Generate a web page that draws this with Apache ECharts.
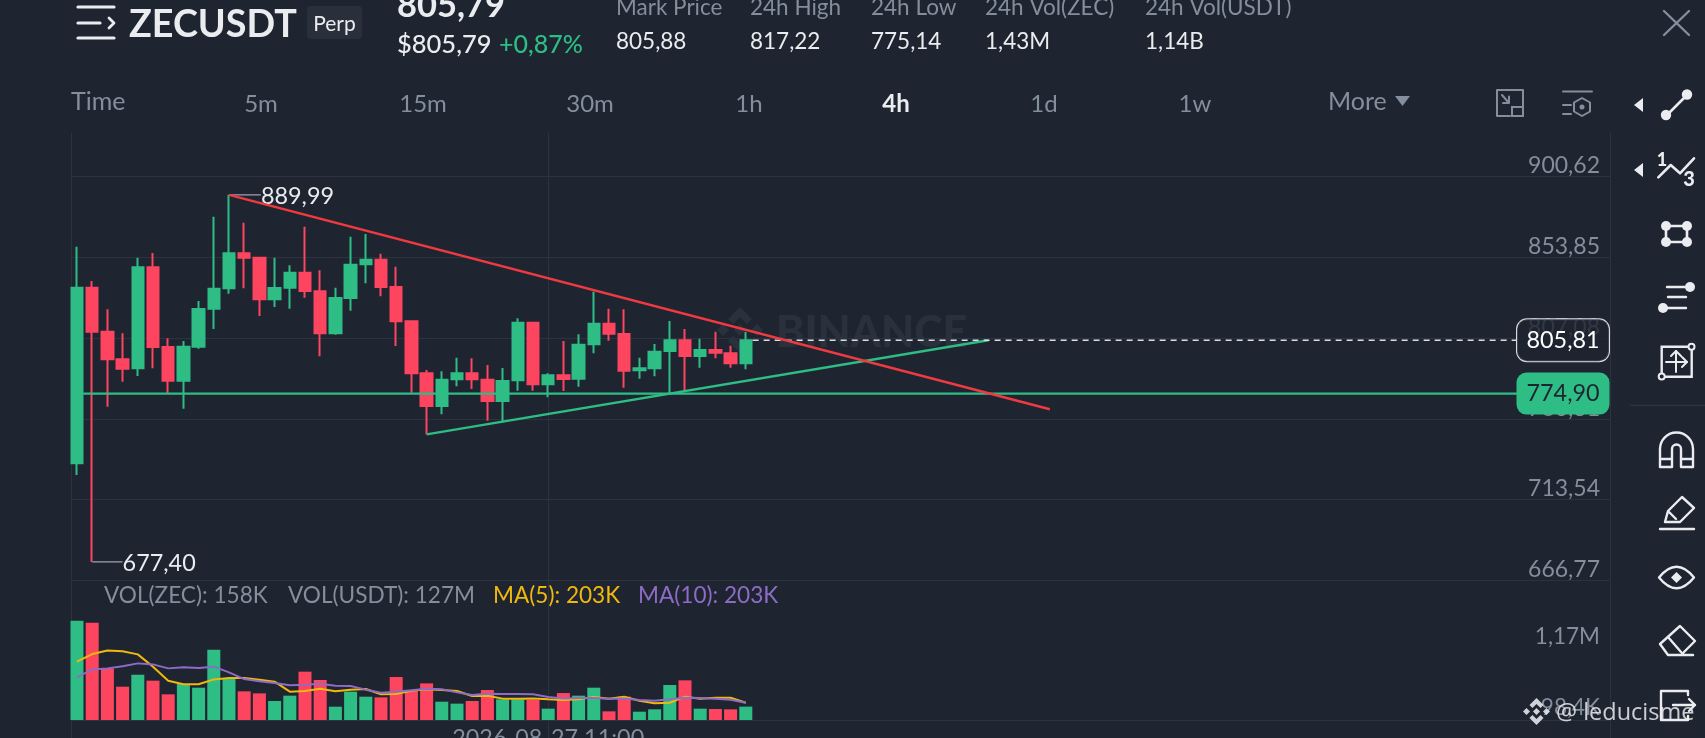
<!DOCTYPE html>
<html><head><meta charset="utf-8">
<style>html,body{margin:0;padding:0;background:#1E2530;overflow:hidden}#c{width:1705px;height:738px}</style>
<script src="https://cdn.jsdelivr.net/npm/echarts@6/dist/echarts.min.js"></script>
</head><body><div id="c"></div>
<script>
const opens =[734.5,836.23,810.74,794.72,789.5,848,801.86,782.36,802.05,824.06,835.84,856.11,853.6,829.47,836.23,844.91,834.1,809.78,830.24,849.74,852.44,836.61,816.73,786.61,767.69,783.13,786.61,782.94,770.58,782.55,815.96,780.24,785.45,783.52,803.41,815.38,809.39,788.35,789.5,799.54,805.72,796.65,800.12,798.19,792.4];
const closes=[836.23,810.74,794.72,789.31,848,801.86,782.36,802.05,823.87,835.65,856.11,853.6,829.47,836.03,844.91,834.3,809.78,830.24,849.55,852.44,836.61,816.73,786.61,767.69,782.94,786.61,783.13,770.58,782.17,815.96,780.24,785.45,783.33,803.21,815.38,809.58,788.15,789.5,799.16,805.72,796.65,800.12,798.58,792.4,805.81];
const highs =[859.97,840.09,823.68,809.78,853.6,856.31,806.88,805.33,828.5,877.35,889.99,873.88,853.6,853.6,849.16,871.56,846.27,836.23,865.77,867.31,855.92,848.39,817.31,788.54,787.77,795.68,795.3,791.44,789.7,818.46,816.53,786.61,805.34,809.2,833.91,824.06,823.68,795.68,803.6,816.92,812.29,806.69,810.74,802.63,810.55];
const lows  =[727.72,677.4,767.3,781.78,785.06,789.5,775.02,766.14,800.89,812.29,832.75,835.84,819.82,825.03,824.06,830.43,796.45,809,822.9,838.74,831.21,802.44,775.41,751.28,762.86,779.08,777.53,759.19,758.23,776.57,776.57,772.71,776.38,778.89,798.19,805.53,778.31,783.52,784.87,775.02,776.57,789.89,795.3,789.89,788.93];
const volumes=[1171,1148,609,393,534,464,303,424,381,829,491,338,314,224,287,570,472,157,334,275,267,507,354,432,216,193,224,354,244,244,236,134,318,287,381,102,275,98,126,413,468,134,130,126,158];
const ma5 =[688,778,821,810,774,629,464,421,421,479,495,495,476,452,334,342,369,338,358,365,303,307,346,362,354,342,283,287,252,252,255,244,236,244,271,252,275,228,197,204,275,252,263,263,203];
const ma10=[503,597,609,633,668,656,609,621,613,629,562,483,456,436,409,417,428,405,401,358,322,334,350,369,362,326,295,310,307,307,303,271,255,259,259,252,255,236,228,244,263,259,252,240,203];
const priceTicks=[666.77,713.54,760.31,807.08,853.85,900.62];
const volTickLabels=[98.4,1170];
const redTrend=[[10,889.99],[64,765.78]];
const greenTrend=[[23,751.28],[59.95,805.81]];
const lastPrice=805.81, supportPrice=774.90, highMark=889.99, lowMark=677.40;
const timeLabel='2026-08-27 11:00', timeIndex=31;
const timeframes=[['5m',261],['15m',423],['30m',590],['1h',749],['4h',896],['1d',1044],['1w',1195]];
const stats=[['Mark Price','805,88',616],['24h High','817,22',750],['24h Low','775,14',871],['24h Vol(ZEC)','1,43M',985],['24h Vol(USDT)','1,14B',1145]];

const FONT='Lato';
const BG='#1E2530',GRID='#2C333F',UP='#2EBD85',DOWN='#FD4560',MUTED='#848E9C',WHITE='#EAECEF',TL_RED='#F03A41';
const comma=v=>v.toFixed(2).replace('.',',');
const xMin=-0.355,xMax=100.855;
const idx=volumes.map((_,i)=>i);

/* graphic helpers */
const T=(x,y,text,size,fill,weight,align,z)=>({type:'text',z:z||1,style:{x,y,text,fill,font:(weight||400)+' '+size+'px '+FONT,textAlign:align||'left',textVerticalAlign:'middle'}});
const L=(x1,y1,x2,y2,stroke,w,z)=>({type:'line',z:z||1,shape:{x1,y1,x2,y2},style:{stroke,lineWidth:w||2,lineCap:'round'}});
const C=(cx,cy,r,fill,stroke,w)=>({type:'circle',z:1,shape:{cx,cy,r},style:{fill:fill||'none',stroke:stroke||null,lineWidth:w||0}});
const R=(x,y,width,height,opt)=>({type:'rect',z:1,shape:{x,y,width,height,r:opt.r||0},style:{fill:opt.fill||'none',stroke:opt.stroke||null,lineWidth:opt.w||0}});
let pathCount=0;
const P=(d,fill,stroke,w,z,op)=>{const name='iconPath'+(pathCount++);
 echarts.graphic.registerShape(name,echarts.graphic.extendPath(d,{}));
 return {type:name,z:z||1,shape:{},style:{fill:fill||'none',stroke:stroke||null,lineWidth:w||0,lineJoin:'round',lineCap:'round',opacity:op==null?1:op}};};
const logo=(x,y,r,color,z,op)=>{const s=r*0.26;const d=(a,b,q)=>`M${a-q},${b}L${a},${b-q}L${a+q},${b}L${a},${b+q}Z`;
 const chev=`M${x},${y-r}L${x+r*0.52},${y-r*0.48}L${x+r*0.3},${y-r*0.26}L${x},${y-r*0.56}L${x-r*0.3},${y-r*0.26}L${x-r*0.52},${y-r*0.48}Z`+
 `M${x},${y+r}L${x+r*0.52},${y+r*0.48}L${x+r*0.3},${y+r*0.26}L${x},${y+r*0.56}L${x-r*0.3},${y+r*0.26}L${x-r*0.52},${y+r*0.48}Z`;
 return P(d(x,y,s)+d(x-r*0.74,y,s)+d(x+r*0.74,y,s)+chev,color,null,0,z,op);};

const I='#EAECEF';
const g=[
 /* faint brand mark behind the chart */
 logo(740,330,23,'#2A313D',0.5),
 T(776,333,'BINANCE',43,'#2A313D',900,'left',0.5),
 /* title */
 L(78,7,114,7,WHITE,3.2),L(78,23,100,23,WHITE,3.2),L(78,38,114,38,WHITE,3.2),
 P('M109,18L114,23L109,28',null,WHITE,2.8),
 T(129,25,'ZECUSDT',37.7,WHITE,700),
 R(307,6,55,33,{fill:'#2A303B',r:4}),
 T(334.5,24,'Perp',21,WHITE,400,'center'),
 T(397,6,'805,79',34.5,WHITE,700),
 T(397,45,'$805,79',25.5,WHITE,500),
 T(499,45,'+0,87%',25,UP,500),
 /* time bar */
 T(71,101.5,'Time',25,MUTED),
 T(1328,102,'More',25,MUTED),
 P('M1395,96L1410,96L1402.5,106Z',MUTED),
 /* top icons */
 P('M1510,116L1497,116L1497,90L1523,90L1523,106',null,MUTED,2),
 R(1512,107,11,9,{stroke:MUTED,w:2}),
 P('M1502,95L1509,103M1509,96.5L1509,103L1503,103',null,MUTED,2),
 L(1563,91.5,1592,91.5,MUTED,2),L(1563,105,1571,105,MUTED,2),L(1563,114,1571,114,MUTED,2),
 P('M1582,98L1590,102.5L1590,111.5L1582,116L1574,111.5L1574,102.5Z',null,MUTED,2),
 C(1582,107,2.5,MUTED),
 L(1664,11,1689,35,MUTED,2.4),L(1689,11,1664,35,MUTED,2.4),
 /* drawing tools */
 P('M1643,98L1634,105L1643,112Z',I),P('M1643,163L1634,170L1643,177Z',I),
 C(1687,94.5,5.2,I),C(1666,115,5.2,I),L(1667,115,1687,95,I,2.6),
 P('M1658.3,177.3L1670.7,165L1680,173.3L1694,158.3',null,I,2.6),
 T(1662,160,'1',18,I,900,'center'),T(1689,180,'3',20,I,900,'center'),
 L(1666,226,1687,226,I,2.6),L(1666,242,1687,242,I,2.6),L(1666,226,1666,242,I,2.6),L(1687,226,1687,242,I,2.6),
 C(1666,226,5,I),C(1687,226,5,I),C(1666,242,5,I),C(1687,242,5,I),
 L(1667,287,1690,287,I,2.4),C(1690,287,5,I),L(1668,297,1686,297,I,2.4),L(1663,308,1686,308,I,2.4),C(1663,308,5,I),
 R(1661.7,346.7,30,30,{stroke:I,w:2.4}),C(1691.5,346.7,3,BG,I,2),C(1661.7,376.5,3,BG,I,2),
 L(1676,351,1676,372,I,2),L(1666,362,1687,362,I,2),P('M1671,356L1676,351L1681,356M1682,357L1687,362L1682,367',null,I,2),
 L(1630,405.3,1705,405.3,'#333A46',1),
 P('M1660,467L1660,449A16.5,16.5 0 0 1 1693,449L1693,467L1681,467L1681,449A4.5,4.5 0 0 0 1672,449L1672,467ZM1660,459L1672,459M1681,459L1693,459',null,I,2.4),
 P('M1665,522L1668,511L1682,497L1694,508L1680,522ZM1668,511L1676,519',null,I,2.4),L(1660,529,1694,529,I,2.4),
 P('M1659,577.5Q1676.5,556 1694,577.5Q1676.5,599 1659,577.5Z',null,I,2.4),
 P('M1671,577.5L1676.5,572L1682,577.5L1676.5,583Z',I),
 P('M1660,644L1680,626L1695,641L1681,655L1668,655ZM1668,637L1681,652M1668,655L1693,655',null,I,2.4),
 P('M1688,695L1688,691L1661,691L1661,720L1688,720L1688,716M1673,705L1695,705M1689,699L1695,705L1689,711',null,I,2.4),
 /* volume legend */
 T(104,596,'VOL(ZEC): 158K',22.6,MUTED),
 T(288,596,'VOL(USDT): 127M',22.6,MUTED),
 T(493,596,'MA(5): 203K',22.6,'#F0B90B'),
 T(638,596,'MA(10): 203K',22.6,'#8E6BC6'),
 /* overlay signature */
 logo(1536.5,711.5,13.5,'#E3E6EA',100,0.9),
 {type:'text',z:100,style:{x:1556,y:713,text:'@ leducisme',fill:'rgba(234,236,239,0.85)',font:'400 23.5px "Open Sans"',textAlign:'left',textVerticalAlign:'middle'}}
];
stats.forEach(s=>{g.push(T(s[2],8,s[0],22.5,MUTED));g.push(T(s[2],41.5,s[1],22.5,WHITE));});
timeframes.forEach(t=>{const on=t[0]==='4h';g.push(T(t[1],104,t[0],24,on?WHITE:MUTED,on?700:400,'center'));});

const grids=[{left:71.6,right:95,top:133,height:447.3,outerBoundsMode:'none'},{left:71.6,right:95,top:580.3,height:139.7,outerBoundsMode:'none'}];
const xAxisBase=(gi)=>({type:'value',gridIndex:gi,min:xMin,max:xMax,
 axisLine:{show:false},
 axisTick:gi?{show:true,length:18,lineStyle:{color:GRID,width:1},customValues:[xMin,timeIndex,xMax]}:{show:false,customValues:[xMin,timeIndex,xMax]},
 splitLine:{show:true,lineStyle:{color:GRID,width:1}},
 axisLabel:{show:!!gi,customValues:[xMin,timeIndex,xMax],showMinLabel:true,showMaxLabel:true,hideOverlap:false,margin:7,color:MUTED,fontFamily:FONT,fontSize:23.4,
  formatter:v=>Math.abs(v-timeIndex)<1e-6?timeLabel:''}});

const option={
 backgroundColor:BG,animation:false,
 graphic:{elements:g},
 grid:grids,
 xAxis:[xAxisBase(0),xAxisBase(1)],
 yAxis:[
  {type:'value',gridIndex:0,position:'right',min:priceTicks[0],max:925.8,
   axisLine:{show:false},axisTick:{show:false,customValues:priceTicks},
   splitLine:{show:true,lineStyle:{color:GRID,width:1.2}},
   axisLabel:{inside:true,customValues:priceTicks,margin:10,showMinLabel:true,showMaxLabel:true,hideOverlap:false,color:MUTED,fontFamily:FONT,fontSize:23,lineHeight:21,verticalAlign:'bottom',
     formatter:v=>comma(v)}},
  {type:'value',gridIndex:1,position:'right',min:0,max:1648,
   axisLine:{show:false},axisTick:{show:false},axisLabel:{show:false},
   splitLine:{show:true,lineStyle:{color:GRID,width:1.2}},interval:1648},
  {type:'value',gridIndex:1,position:'right',min:-82.7,max:2025.4,
   axisLine:{show:false},axisTick:{show:false,customValues:volTickLabels},splitLine:{show:false},
   axisLabel:{inside:true,customValues:volTickLabels,margin:10,showMinLabel:true,showMaxLabel:true,hideOverlap:false,color:MUTED,fontFamily:FONT,fontSize:22.5,
     formatter:v=>v>=1000?comma(v/1000).replace(/0$/,'')+'M':String(v).replace('.',',')+'K'}}
 ],
 series:[
  {type:'candlestick',xAxisIndex:0,yAxisIndex:0,z:3,barWidth:12,clip:true,encode:{x:0,y:[1,2,3,4]},
   data:idx.map(i=>[i,opens[i],closes[i],lows[i],highs[i]]),
   itemStyle:{color:UP,color0:DOWN,borderColor:UP,borderColor0:DOWN,borderWidth:2}},
  {type:'bar',xAxisIndex:1,yAxisIndex:1,z:3,barWidth:13,clip:true,
   data:idx.map(i=>({value:[i,volumes[i]],itemStyle:{color:closes[i]>=opens[i]?UP:DOWN}}))},
  {type:'line',xAxisIndex:1,yAxisIndex:1,z:4,symbol:'none',lineStyle:{color:'#F0B90B',width:2},data:idx.map(i=>[i,ma5[i]])},
  {type:'line',xAxisIndex:1,yAxisIndex:1,z:5,symbol:'none',lineStyle:{color:'#8E6BC6',width:2},data:idx.map(i=>[i,ma10[i]])},
  {type:'line',xAxisIndex:0,yAxisIndex:0,z:6,symbol:'none',lineStyle:{color:UP,width:2.4},data:[[0.41,supportPrice],[94.8,supportPrice]]},
  {type:'line',xAxisIndex:0,yAxisIndex:0,z:6,symbol:'none',lineStyle:{color:UP,width:2.4},data:greenTrend},
  {type:'line',xAxisIndex:0,yAxisIndex:0,z:7,symbol:'none',lineStyle:{color:TL_RED,width:2.5},data:redTrend},
  {type:'line',xAxisIndex:0,yAxisIndex:0,z:6,symbol:'none',lineStyle:{color:'#D9DCE1',width:1.4,type:[6,5]},data:[[44.45,lastPrice],[94.7,lastPrice]]},
  {type:'line',xAxisIndex:0,yAxisIndex:0,z:6,symbol:'none',lineStyle:{color:'#9EA3AB',width:1.2},data:[[10,highMark],[12.1,highMark]],
   endLabel:{show:true,formatter:comma(highMark),color:WHITE,fontFamily:FONT,fontSize:23.4,distance:0,offset:[0,2]}},
  {type:'line',xAxisIndex:0,yAxisIndex:0,z:6,symbol:'none',lineStyle:{color:'#9EA3AB',width:1.2},data:[[1,lowMark],[3,lowMark]],
   endLabel:{show:true,formatter:comma(lowMark),color:WHITE,fontFamily:FONT,fontSize:23.4,distance:0,offset:[0,2]}},
  {type:'scatter',xAxisIndex:0,yAxisIndex:0,z:9,symbolSize:1,itemStyle:{color:'rgba(0,0,0,0)',opacity:1},clip:false,data:[[xMax,lastPrice]],
   label:{show:true,position:'left',distance:0,offset:[-46.5,0],opacity:1,formatter:comma(lastPrice),color:'#FFFFFF',fontFamily:FONT,fontSize:23.4,width:92,height:42,lineHeight:42,align:'center',
     backgroundColor:'rgba(30,37,48,0.82)',borderColor:'#D9DCE1',borderWidth:1,borderRadius:10}},
  {type:'scatter',xAxisIndex:0,yAxisIndex:0,z:9,symbolSize:1,itemStyle:{color:'rgba(0,0,0,0)',opacity:1},clip:false,data:[[xMax,supportPrice]],
   label:{show:true,position:'left',distance:0,offset:[-46.5,0],opacity:1,formatter:comma(supportPrice),color:'#1E2530',fontFamily:FONT,fontSize:23.4,width:93,height:42,lineHeight:42,align:'center',
     backgroundColor:UP,borderRadius:10}}
 ]
};
const chart=echarts.init(document.getElementById('c'),null,{renderer:'canvas',width:1705,height:738});
chart.setOption(option);
</script></body></html>
